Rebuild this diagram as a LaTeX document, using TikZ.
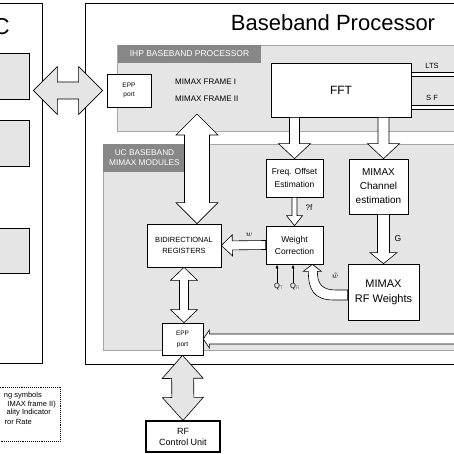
\documentclass[tikz,border=0pt]{standalone}
\usepackage{fontspec}
\setmainfont{Liberation Sans}
\usetikzlibrary{arrows.meta, calc, positioning}
\definecolor{bbfill}{RGB}{229,229,229}
\definecolor{bbtab}{RGB}{135,135,135}
\definecolor{bbedge}{RGB}{165,165,165}

\newcommand{\fsz}[2]{\fontsize{#1}{#2}\selectfont}

\newcommand{\blockarrow}[6][]{%
  \path ($(#3)!#6!(#2)$) coordinate (ba-h);
  \draw[blockarr, #1] ($(#2)!#4!90:(#3)$) -- ($(ba-h)!#4!90:(#3)$)
    -- ($(ba-h)!#5!90:(#3)$) -- (#3) -- ($(ba-h)!#5!-90:(#3)$)
    -- ($(ba-h)!#4!-90:(#3)$) -- ($(#2)!#4!-90:(#3)$) -- cycle;
}
\newcommand{\dblarrow}[6][]{%
  \path ($(#2)!#6!(#3)$) coordinate (da-a) ($(#3)!#6!(#2)$) coordinate (da-b);
  \draw[blockarr, #1] (#2) -- ($(da-a)!#5!90:(#3)$) -- ($(da-a)!#4!90:(#3)$)
    -- ($(da-b)!#4!90:(#3)$) -- ($(da-b)!#5!90:(#3)$) -- (#3)
    -- ($(da-b)!#5!-90:(#3)$) -- ($(da-b)!#4!-90:(#3)$)
    -- ($(da-a)!#4!-90:(#3)$) -- ($(da-a)!#5!-90:(#3)$) -- cycle;
}

\begin{document}
\begin{tikzpicture}[x=1pt, y=-1pt,
    box/.style={draw, fill=white, line width=0.7pt, inner sep=1pt, align=center},
    region/.style={draw=bbedge, fill=bbfill, line width=0.7pt},
    tab/.style={fill=bbtab, text=white, inner sep=0pt, align=center},
    blockarr/.style={draw, fill=white, line width=0.6pt, line join=miter},
    grayarr/.style={fill=bbfill},
    qarr/.style={-{Latex[length=4pt, width=3pt]}, line width=0.6pt},
    lbl/.style={inner sep=0pt}
  ]
    \useasboundingbox (0,0) rectangle (454,454);
    \clip (0,0) rectangle (454,454);

    \node[box, minimum width=52, minimum height=360] (ucbox) at (16,183) {};
    \node[lbl, anchor=east, font=\fsz{23}{26}] (uclbl) at (10,27) {C};
    \node[box, fill=bbfill, minimum width=39, minimum height=46] (uc1) at (9.5,76) {};
    \node[box, fill=bbfill, minimum width=39, minimum height=46] (uc2) at (9.5,143) {};
    \node[box, fill=bbfill, minimum width=39, minimum height=45] (uc3) at (9.5,250.5) {};

    \node[box, minimum width=385, minimum height=361] (bbp) at (277.5,183.5) {};
    \node[lbl, font=\fsz{22}{26}] (title) at (333,23) {Baseband Processor};

    \node[region, minimum width=353, minimum height=86] (ihp) at (293.5,88) {};
    \node[tab, minimum width=143, minimum height=18, font=\fsz{8.5}{9}] (ihptab) at (189.5,54)
      {IHP BASEBAND PROCESSOR};
    \node[region, minimum width=367, minimum height=206] (ucmod) at (286.5,247) {};
    \node[tab, minimum width=83, minimum height=28, font=\fsz{8.3}{10}] (uctab) at (144.5,158)
      {UC BASEBAND\\MIMAX MODULES};

    \node[box, minimum width=44, minimum height=33, font=\fsz{6.5}{9}] (epp1) at (129,90.5) {EPP\\port};
    \node[lbl, anchor=west, align=left, font=\fsz{8}{17}] (frames) at (175,90.5)
      {MIMAX FRAME I\\MIMAX FRAME II};
    \node[box, minimum width=140, minimum height=54, font=\fsz{12}{14}] (fft) at (341,90) {FFT};
    \node[box, minimum width=57, minimum height=38, font=\fsz{8.5}{13}] (freq) at (294.5,178)
      {Freq. Offset\\Estimation};
    \node[box, minimum width=59, minimum height=55, font=\fsz{10}{14}] (chan) at (378.5,186.5)
      {MIMAX\\Channel\\estimation};
    \node[box, minimum width=57, minimum height=38, font=\fsz{8.5}{12}] (wc) at (294.5,245)
      {Weight\\Correction};
    \node[box, minimum width=71, minimum height=56, font=\fsz{11}{15}] (rfw) at (383.5,292)
      {MIMAX\\RF Weights};
    \node[box, minimum width=74, minimum height=43, font=\fsz{7.5}{11}] (bidir) at (184,245.5)
      {BIDIRECTIONAL\\REGISTERS};
    \node[box, minimum width=41, minimum height=32, font=\fsz{6.5}{11}] (epp2) at (182.5,339) {EPP\\port};
    \node[box, line width=1.1pt, minimum width=74, minimum height=31, font=\fsz{9}{11}] (rfcu) at (183,436.5)
      {RF\\Control Unit};

    \coordinate (lt) at ($(ucbox.east |- epp1.west)+(-9,0)$);
    \coordinate (rt) at ($(epp1.west)+(-4,0)$);
    \coordinate (frametip) at (197,114);
    \coordinate (bidirtop) at (frametip |- bidir.north);
    \coordinate (fftout1) at (freq.north |- fft.south);
    \coordinate (fftout2) at (rfw.north |- fft.south);
    \coordinate (chanin) at (rfw.north |- chan.north);
    \coordinate (chanout) at (rfw.north |- chan.south);
    \coordinate (eppbot) at (bidir.south |- epp2.north);
    \coordinate (eppin) at (470,339);
    \coordinate (ltsend) at (470,76);
    \coordinate (sfend) at (470,109);
    \coordinate (cvtip) at ($(wc.south east)+(-11,0)$);

    \dblarrow[grayarr]{lt}{rt}{8.5pt}{24pt}{24pt}
    \dblarrow{frametip}{bidirtop}{12.5pt}{21pt}{21pt}
    \dblarrow{bidir.south}{eppbot}{4.5pt}{13.5pt}{13pt}
    \dblarrow[grayarr]{epp2.south}{rfcu.north}{11pt}{20.5pt}{23pt}
    \blockarrow{fftout1}{freq.north}{5pt}{16pt}{15pt}
    \blockarrow{fftout2}{chanin}{5.5pt}{16pt}{15pt}
    \blockarrow{freq.south}{wc.north}{2.5pt}{8pt}{10pt}
    \blockarrow{chanout}{rfw.north}{6pt}{13.5pt}{11pt}
    \blockarrow{wc.west}{bidir.east}{4.5pt}{10.5pt}{11pt}
    \blockarrow{eppin}{epp2.east}{5pt}{9pt}{6pt}

    \draw[blockarr] (fft.east |- 0,72) rectangle (ltsend);
    \draw[blockarr] (fft.east |- 0,105) rectangle (sfend);
    \node[lbl, font=\fsz{7.5}{8}] (lts) at (432,66) {LTS};
    \node[lbl, font=\fsz{7.5}{8}] (sf) at (432,98) {S F};

    \draw[blockarr] ($(rfw.west)+(0,8)$) -- ++(-14,0)
      .. controls +(-20,0) and +(0,18) .. ($(cvtip)+(-4,7)$) -- ++(-5,0) -- (cvtip)
      -- ($(cvtip)+(9,7)$) -- ++(-4,0)
      .. controls +(0,12) and +(-14,0) .. ($(rfw.west)+(-12,-2)$) -- ($(rfw.west)+(0,-2)$) -- cycle;

    \node[lbl, font=\fsz{8}{9}] (wlbl) at (249,235) {$w$};
    \node[lbl, font=\fsz{8}{9}] (dflbl) at (309,208) {?f};
    \node[lbl, font=\fsz{8.5}{9}] (glbl) at (398,239) {G};
    \node[lbl, font=\fsz{8}{9}] (wtlbl) at (335,276) {$\tilde{w}$};

    \coordinate (qtfoot) at (277,283);
    \coordinate (qrfoot) at (293,283);
    \draw[qarr] (qtfoot) -- (qtfoot |- wc.south);
    \draw[qarr] (qrfoot) -- (qrfoot |- wc.south);
    \node[lbl, anchor=north, font=\fsz{7.5}{8}] (qt) at (qtfoot) {Q\rlap{\textsubscript{\textcolor{gray}{T}}}};
    \node[lbl, anchor=north, font=\fsz{7.5}{8}] (qr) at (qrfoot) {Q\rlap{\textsubscript{\textcolor{gray}{R}}}};

    \draw[densely dotted, line width=0.9pt] (-10,387) rectangle (60,441);
    \node[lbl, anchor=east, font=\fsz{7.5}{8}] (leg1) at (42,396) {ng symbols};
    \node[lbl, anchor=east, font=\fsz{7.5}{8}] (leg2) at (56,404.5) {IMAX frame II)};
    \node[lbl, anchor=east, font=\fsz{7.5}{8}] (leg3) at (51,413) {ality Indicator};
    \node[lbl, anchor=east, font=\fsz{7.5}{8}] (leg4) at (32,421.5) {ror Rate};
\end{tikzpicture}
\end{document}
